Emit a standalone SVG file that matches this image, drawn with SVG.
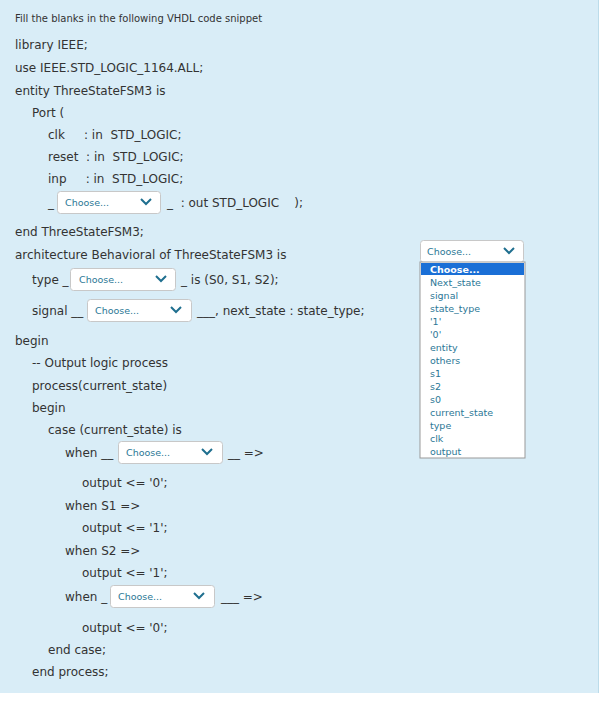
<svg xmlns="http://www.w3.org/2000/svg" width="601" height="703" viewBox="0 0 601 703" xml:space="preserve">
<style>
text{font-family:"DejaVu Sans",Verdana,sans-serif;font-size:12px;fill:#333;white-space:pre}
.c{font-size:9.5px;fill:#2b7796}
.sel{fill:#fff;stroke:#c8c8c8;stroke-width:1}
.chev{fill:none;stroke:#1f6f8f;stroke-width:2}
.li{font-size:9.5px;fill:#2b7796}
</style>
<rect x="0" y="0" width="598" height="693" fill="#d9edf7"/>
<line x1="598.5" y1="0" x2="598.5" y2="693" stroke="#bcdcea"/>
<text x="15" y="22" style="font-size:10px">Fill the blanks in the following VHDL code snippet</text>
<text x="15" y="49">library IEEE;</text>
<text x="15" y="72">use IEEE.STD_LOGIC_1164.ALL;</text>
<text x="15" y="95">entity ThreeStateFSM3 is</text>
<text x="32" y="117">Port (</text>
<text x="48" y="139">clk     : in  STD_LOGIC;</text>
<text x="48" y="161">reset  : in  STD_LOGIC;</text>
<text x="48" y="183">inp     : in  STD_LOGIC;</text>
<g id="sel1"><text x="48" y="207">_</text><rect class="sel" x="57.5" y="191.5" width="103" height="22" rx="3"/><text class="c" x="65" y="206">Choose...</text><path class="chev" d="M141 199l5 5 5-5"/><text x="167" y="207">_  : out STD_LOGIC    );</text></g>
<text x="15" y="236">end ThreeStateFSM3;</text>
<text x="15" y="259">architecture Behavioral of ThreeStateFSM3 is</text>
<g id="sel2"><text x="32" y="284">type _</text><rect class="sel" x="70.5" y="268.5" width="105" height="22" rx="3"/><text class="c" x="79" y="283">Choose...</text><path class="chev" d="M156 276l5 5 5-5"/><text x="181" y="284">_ is (S0, S1, S2);</text></g>
<g id="sel3"><text x="32" y="315">signal __</text><rect class="sel" x="87.5" y="299.5" width="104" height="22" rx="3"/><text class="c" x="95" y="314">Choose...</text><path class="chev" d="M171 307l5 5 5-5"/><text x="197" y="315">___, next_state : state_type;</text></g>
<text x="15" y="345">begin</text>
<text x="32" y="367">-- Output logic process</text>
<text x="32" y="390">process(current_state)</text>
<text x="32" y="412">begin</text>
<text x="48" y="434">case (current_state) is</text>
<g id="sel4"><text x="65" y="457">when __</text><rect class="sel" x="118.5" y="441.5" width="104" height="22" rx="3"/><text class="c" x="126" y="456">Choose...</text><path class="chev" d="M202 449l5 5 5-5"/><text x="228" y="457">__ =&gt;</text></g>
<text x="82" y="487">output &lt;= '0';</text>
<text x="65" y="510">when S1 =&gt;</text>
<text x="82" y="532">output &lt;= '1';</text>
<text x="65" y="555">when S2 =&gt;</text>
<text x="82" y="577">output &lt;= '1';</text>
<g id="sel5"><text x="65" y="601">when _</text><rect class="sel" x="110.5" y="585.5" width="104" height="22" rx="3"/><text class="c" x="118" y="600">Choose...</text><path class="chev" d="M194 593l5 5 5-5"/><text x="221" y="601">___ =&gt;</text></g>
<text x="82" y="632">output &lt;= '0';</text>
<text x="48" y="654">end case;</text>
<text x="32" y="676">end process;</text>
<g id="dropdown">
<rect class="sel" x="420.5" y="240.5" width="103" height="22" rx="3" stroke="#8aa"/>
<text class="c" x="427" y="255">Choose...</text><path class="chev" d="M504 248l5 5 5-5"/>
<rect x="420" y="262" width="105" height="196" fill="#fff" stroke="#999"/>
<rect x="421" y="263" width="103" height="12" fill="#1a6fd6"/>
<text class="li" x="430" y="273" style="fill:#fff;font-weight:bold">Choose...</text>
<text class="li" x="430" y="286">Next_state</text>
<text class="li" x="430" y="299">signal</text>
<text class="li" x="430" y="312">state_type</text>
<text class="li" x="430" y="325">'1'</text>
<text class="li" x="430" y="338">'0'</text>
<text class="li" x="430" y="351">entity</text>
<text class="li" x="430" y="364">others</text>
<text class="li" x="430" y="377">s1</text>
<text class="li" x="430" y="390">s2</text>
<text class="li" x="430" y="403">s0</text>
<text class="li" x="430" y="416">current_state</text>
<text class="li" x="430" y="429">type</text>
<text class="li" x="430" y="442">clk</text>
<text class="li" x="430" y="455">output</text>
</g>
</svg>
